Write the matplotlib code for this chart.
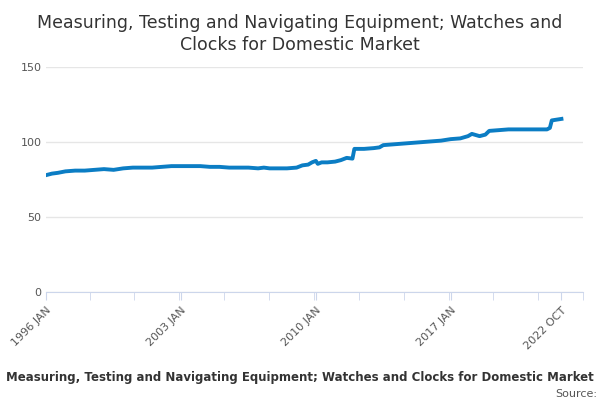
import matplotlib
matplotlib.use("Agg")
import matplotlib.pyplot as plt

# (decimal year, index value)
years = [1996.0, 1996.3, 1996.6, 1997.0, 1997.5, 1998.0, 1998.5, 1999.0, 1999.5, 2000.0,
         2000.5, 2001.0, 2001.5, 2002.0, 2002.5, 2003.0, 2003.5, 2004.0, 2004.5, 2005.0,
         2005.5, 2006.0, 2006.5, 2007.0, 2007.3, 2007.6, 2008.0, 2008.5, 2009.0, 2009.3,
         2009.6, 2009.8, 2010.0, 2010.1, 2010.3, 2010.6, 2011.0, 2011.3, 2011.6, 2011.9,
         2012.0, 2012.5, 2013.0, 2013.3, 2013.5, 2014.0, 2014.5, 2015.0, 2015.5, 2016.0,
         2016.5, 2017.0, 2017.5, 2017.9, 2018.1, 2018.5, 2018.8, 2019.0, 2019.5, 2020.0,
         2020.5, 2021.0, 2021.5, 2022.0, 2022.15, 2022.25, 2022.5, 2022.75]
values = [78, 79, 79.5, 80.5, 81, 81, 81.5, 82, 81.5, 82.5,
          83, 83, 83, 83.5, 84, 84, 84, 84, 83.5, 83.5,
          83, 83, 83, 82.5, 83, 82.5, 82.5, 82.5, 83, 84.5,
          85, 86.5, 87.5, 85.5, 86.5, 86.5, 87, 88, 89.5, 89,
          95.5, 95.5, 96, 96.5, 98, 98.5, 99, 99.5, 100, 100.5,
          101, 102, 102.5, 104, 105.5, 104, 105, 107.5, 108, 108.5,
          108.5, 108.5, 108.5, 108.5, 109.5, 114.5, 115, 115.5]

tick_pos = [1996.0, 2003.0, 2010.0, 2017.0, 2022.75]
tick_labels = ["1996 JAN", "2003 JAN", "2010 JAN", "2017 JAN", "2022 OCT"]
y_ticks = [0, 50, 100, 150]

fig = plt.figure(figsize=(6, 4), dpi=100)
ax = fig.add_axes([0.077, 0.27, 0.895, 0.562])
ax.plot(years, values, color="#0b7dc4", lw=2.8, solid_joinstyle="round")
ax.set_xlim(1996.0, 2022.75)
ax.set_ylim(0, 150)
ax.set_yticks(y_ticks)
ax.set_xticks(tick_pos)
ax.set_xticklabels(tick_labels, rotation=45, ha="right", rotation_mode="anchor",
                   fontsize=8, color="#555555")
minor = [1998.25 + 2.33 * i for i in range(12)]
ax.set_xticks(minor, minor=True)
ax.tick_params(axis="x", which="both", length=6, color="#ccd6eb")
ax.tick_params(axis="y", length=0, labelsize=8, labelcolor="#555555")
ax.grid(axis="y", color="#e6e6e6", lw=1)
for s in ["top", "right", "left"]:
    ax.spines[s].set_visible(False)
ax.spines["bottom"].set_color("#ccd6eb")
ax.set_axisbelow(True)

fig.text(0.5, 0.965, "Measuring, Testing and Navigating Equipment; Watches and\nClocks for Domestic Market",
         ha="center", va="top", fontsize=12.5, color="#333333", linespacing=1.25)
fig.text(0.5, 0.055, "Measuring, Testing and Navigating Equipment; Watches and Clocks for Domestic Market",
         ha="center", va="center", fontsize=8.5, fontweight="bold", color="#333333")
fig.text(0.995, 0.015, "Source:", ha="right", va="center", fontsize=8, color="#555555")

fig.savefig("out.png", dpi=100)
